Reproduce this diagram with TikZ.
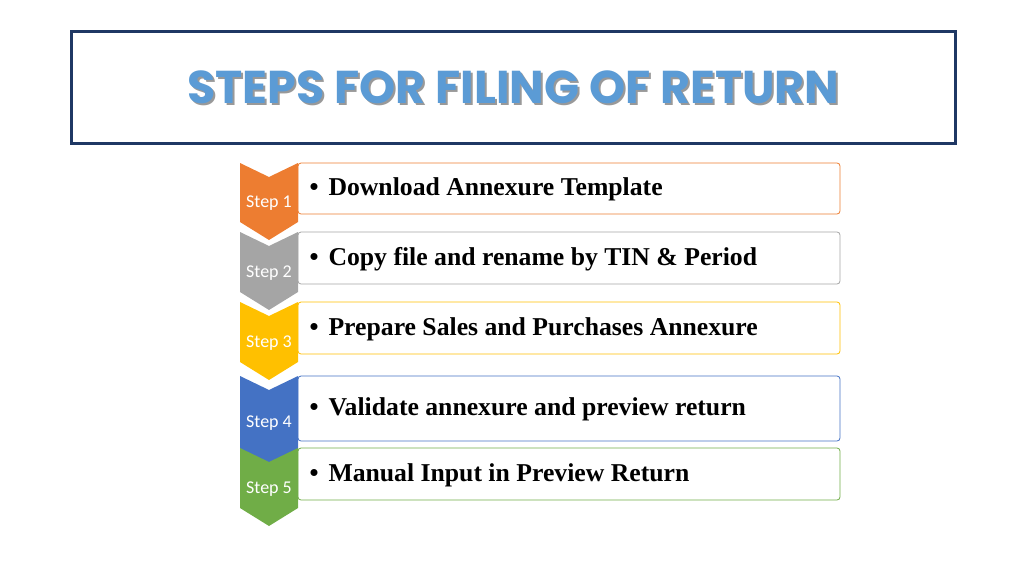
\documentclass[tikz,border=0pt]{standalone}
\usepackage{fontspec}
\setmainfont{Liberation Serif}
\newfontfamily\titlefont{Poppins}
\newfontfamily\stepfont{Carlito}
\begin{document}
\begin{tikzpicture}[x=1pt,y=-1pt,
 titlebox/.style={draw=navy,line width=2.5pt,fill=white},
 bar/.style={line width=0.8pt,fill=white},
 txt/.style={anchor=west,font=\bfseries\fontsize{25.7}{28}\selectfont},
 steplab/.style={font=\stepfont\fontsize{18}{20}\selectfont,text=white}]
\useasboundingbox (0,0) rectangle (1024,576);
\definecolor{c1}{HTML}{ED7D31}\definecolor{c2}{HTML}{A5A5A5}
\definecolor{c3}{HTML}{FFC000}\definecolor{c4}{HTML}{4472C4}
\definecolor{c5}{HTML}{70AD47}\definecolor{tb}{HTML}{5B9BD5}
\definecolor{navy}{HTML}{1F3864}
\node[titlebox,minimum width=884,minimum height=112,anchor=north west] (tbox) at (70,30) {};
\node[font=\titlefont\bfseries\fontsize{46}{50}\selectfont,text=black!40] at ([xshift=2,yshift=-2]tbox.center) {STEPS FOR FILING OF RETURN};
\node[font=\titlefont\bfseries\fontsize{46}{50}\selectfont,text=tb] (title) at (tbox.center) {STEPS FOR FILING OF RETURN};
\foreach \i/\t/\b/\c/\s in {1/163/214/c1/Download Annexure Template,
 2/232/284/c2/Copy file and rename by TIN \& Period,
 3/302/354/c3/Prepare Sales and Purchases Annexure,
 4/376/441/c4/Validate annexure and preview return,
 5/448/500/c5/Manual Input in Preview Return}{
 \draw[bar,draw=\c,rounded corners=3pt] (298,\t) rectangle (840,\b);
 \node[txt] (t\i) at (306,{(\t+\b)/2+1}) {\textbullet\hspace{10pt}\s};
 \fill[\c] (240,\t) -- (269,\t+14) -- (298,\t) -- (298,\b+8) -- (269,\b+26) -- (240,\b+8) -- cycle;
 \node[steplab] (s\i) at (269,{(\t+\b)/2+15}) {Step \i};
}
\end{tikzpicture}
\end{document}
